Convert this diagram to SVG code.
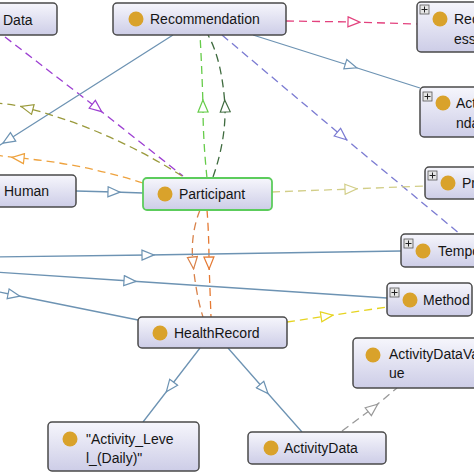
<svg xmlns="http://www.w3.org/2000/svg" width="474" height="474" viewBox="0 0 474 474">
<style>
.node{fill:url(#g);stroke:#4a4a4a;stroke-width:1.5}
.sel{fill:url(#g);stroke:#5ccc5c;stroke-width:1.8}
.dot{fill:#d9a22b}
.t{font-family:"Liberation Sans",Arial,sans-serif;font-size:14px;fill:#151515}
.pl{fill:#e6e6e6;stroke:#555;stroke-width:0.8}
.pls{stroke:#222;stroke-width:1}
.e{fill:none;stroke-width:1.3}
.d{stroke-dasharray:8 5}
</style>
<defs>
<linearGradient id="g" x1="0" y1="0" x2="0" y2="1">
<stop offset="0" stop-color="#f6f6fc"/>
<stop offset="1" stop-color="#cdcde7"/>
</linearGradient>
<marker id="aBlue" markerUnits="userSpaceOnUse" markerWidth="14" markerHeight="12" refX="6" refY="5" orient="auto" viewBox="-1 -1 14 12"><path d="M0,0 L12,5 L0,10 z" fill="#fff" stroke="#6d93b3" stroke-width="1.2"/></marker>
<marker id="aPurple" markerUnits="userSpaceOnUse" markerWidth="14" markerHeight="12" refX="6" refY="5" orient="auto" viewBox="-1 -1 14 12"><path d="M0,0 L12,5 L0,10 z" fill="#fff" stroke="#9d3fd2" stroke-width="1.2"/></marker>
<marker id="aOlive" markerUnits="userSpaceOnUse" markerWidth="14" markerHeight="12" refX="6" refY="5" orient="auto" viewBox="-1 -1 14 12"><path d="M0,0 L12,5 L0,10 z" fill="#fff" stroke="#9a9a3c" stroke-width="1.2"/></marker>
<marker id="aOrange" markerUnits="userSpaceOnUse" markerWidth="14" markerHeight="12" refX="6" refY="5" orient="auto" viewBox="-1 -1 14 12"><path d="M0,0 L12,5 L0,10 z" fill="#fff" stroke="#eea23e" stroke-width="1.2"/></marker>
<marker id="aOrange2" markerUnits="userSpaceOnUse" markerWidth="14" markerHeight="12" refX="6" refY="5" orient="auto" viewBox="-1 -1 14 12"><path d="M0,0 L12,5 L0,10 z" fill="#fff" stroke="#d9824a" stroke-width="1.2"/></marker>
<marker id="aOrange3" markerUnits="userSpaceOnUse" markerWidth="14" markerHeight="12" refX="6" refY="5" orient="auto" viewBox="-1 -1 14 12"><path d="M0,0 L12,5 L0,10 z" fill="#fff" stroke="#e57a34" stroke-width="1.2"/></marker>
<marker id="aLGreen" markerUnits="userSpaceOnUse" markerWidth="14" markerHeight="12" refX="6" refY="5" orient="auto" viewBox="-1 -1 14 12"><path d="M0,0 L12,5 L0,10 z" fill="#fff" stroke="#66cc4a" stroke-width="1.2"/></marker>
<marker id="aDGreen" markerUnits="userSpaceOnUse" markerWidth="14" markerHeight="12" refX="6" refY="5" orient="auto" viewBox="-1 -1 14 12"><path d="M0,0 L12,5 L0,10 z" fill="#fff" stroke="#3f6b3f" stroke-width="1.2"/></marker>
<marker id="aPink" markerUnits="userSpaceOnUse" markerWidth="14" markerHeight="12" refX="6" refY="5" orient="auto" viewBox="-1 -1 14 12"><path d="M0,0 L12,5 L0,10 z" fill="#fff" stroke="#e3427e" stroke-width="1.2"/></marker>
<marker id="aPeri" markerUnits="userSpaceOnUse" markerWidth="14" markerHeight="12" refX="6" refY="5" orient="auto" viewBox="-1 -1 14 12"><path d="M0,0 L12,5 L0,10 z" fill="#fff" stroke="#7b7bd2" stroke-width="1.2"/></marker>
<marker id="aKhaki" markerUnits="userSpaceOnUse" markerWidth="14" markerHeight="12" refX="6" refY="5" orient="auto" viewBox="-1 -1 14 12"><path d="M0,0 L12,5 L0,10 z" fill="#fff" stroke="#d2ce88" stroke-width="1.2"/></marker>
<marker id="aYellow" markerUnits="userSpaceOnUse" markerWidth="14" markerHeight="12" refX="6" refY="5" orient="auto" viewBox="-1 -1 14 12"><path d="M0,0 L12,5 L0,10 z" fill="#fff" stroke="#e6d420" stroke-width="1.2"/></marker>
<marker id="aGray" markerUnits="userSpaceOnUse" markerWidth="14" markerHeight="12" refX="6" refY="5" orient="auto" viewBox="-1 -1 14 12"><path d="M0,0 L12,5 L0,10 z" fill="#fff" stroke="#999" stroke-width="1.2"/></marker>
</defs>
<rect width="474" height="474" fill="#fff"/>
<g id="connectors">
<path class="e d" stroke="#9d3fd2" d="M5,37 L97,108 L183,176" marker-mid="url(#aPurple)"/>
<path class="e" stroke="#6d93b3" d="M173,35 L8,140 L-10,151" marker-mid="url(#aBlue)"/>
<path class="e d" stroke="#9a9a3c" d="M182,176 Q110,130 27,108 Q12,104 -5,103" marker-mid="url(#aOlive)"/>
<path class="e d" stroke="#eea23e" d="M143,183 Q80,163 18,158 L-5,155" marker-mid="url(#aOrange)"/>
<path class="e" stroke="#6d93b3" d="M76,191 L114,192 L143,193" marker-mid="url(#aBlue)"/>
<path class="e d" stroke="#66cc4a" d="M207,178 Q203,140 203,106 Q202,70 200,35" marker-mid="url(#aLGreen)"/>
<path class="e d" stroke="#3f6b3f" d="M213,177 Q226,140 225,106 Q222,60 208,35" marker-mid="url(#aDGreen)"/>
<path class="e d" stroke="#d9824a" d="M200,210 Q190,235 193,263 Q196,295 203,317" marker-mid="url(#aOrange2)"/>
<path class="e d" stroke="#e57a34" d="M207,210 Q209,235 209,263 Q210,290 211,317" marker-mid="url(#aOrange3)"/>
<path class="e d" stroke="#e3427e" d="M286,21 L354,22 L417,24" marker-mid="url(#aPink)"/>
<path class="e" stroke="#6d93b3" d="M253,35 L351,66 L420,88" marker-mid="url(#aBlue)"/>
<path class="e d" stroke="#7b7bd2" d="M222,35 L342,136 L460,234" marker-mid="url(#aPeri)"/>
<path class="e d" stroke="#d2ce88" d="M272,192 L351,189 L425,186" marker-mid="url(#aKhaki)"/>
<path class="e" stroke="#6d93b3" d="M-10,257 L148,255 L401,251" marker-mid="url(#aBlue)"/>
<path class="e" stroke="#6d93b3" d="M-5,272 L130,281 L387,298" marker-mid="url(#aBlue)"/>
<path class="e" stroke="#6d93b3" d="M-5,291 L14,295 L138,320" marker-mid="url(#aBlue)"/>
<path class="e" stroke="#6d93b3" d="M200,348 L170,387 L143,422" marker-mid="url(#aBlue)"/>
<path class="e" stroke="#6d93b3" d="M228,348 L264,389 L302,432" marker-mid="url(#aBlue)"/>
<path class="e d" stroke="#999" d="M342,431 L373,408 L397,388" marker-mid="url(#aGray)"/>
<path class="e d" stroke="#e6d420" d="M287,322 L327,316 L387,307" marker-mid="url(#aYellow)"/>
</g>
<g id="n-data">
<rect class="node" x="-10" y="3" width="67" height="32" rx="4"/>
<text class="t" x="3" y="25">Data</text>
</g>
<g id="n-recommendation">
<rect class="node" x="113" y="3" width="173" height="32" rx="4"/>
<circle class="dot" cx="136" cy="19" r="7.5"/>
<text class="t" x="150" y="24">Recommendation</text>
</g>
<g id="n-rec-process">
<rect class="node" x="417" y="2" width="70" height="50" rx="4"/>
<rect class="pl" x="420" y="5" width="9" height="9"/>
<path class="pls" d="M421.5,9.5 H427.5 M424.5,6.5 V12.5"/>
<circle class="dot" cx="440" cy="19" r="7.5"/>
<text class="t" x="454" y="24">Rec</text>
<text class="t" x="454" y="44">ess</text>
</g>
<g id="n-act-recommendation">
<rect class="node" x="420" y="87" width="70" height="50" rx="4"/>
<rect class="pl" x="423" y="92" width="9" height="9"/>
<path class="pls" d="M424.5,96.5 H430.5 M427.5,93.5 V99.5"/>
<circle class="dot" cx="443" cy="103" r="7.5"/>
<text class="t" x="456" y="108">Acti</text>
<text class="t" x="456" y="128">nda</text>
</g>
<g id="n-human">
<rect class="node" x="-10" y="175" width="86" height="32" rx="4"/>
<text class="t" x="4" y="196">Human</text>
</g>
<g id="n-participant">
<rect class="sel" x="143" y="178" width="129" height="32" rx="4"/>
<circle class="dot" cx="165" cy="194" r="7.5"/>
<text class="t" x="179" y="199">Participant</text>
</g>
<g id="n-pr">
<rect class="node" x="425" y="167" width="70" height="32" rx="4"/>
<rect class="pl" x="428" y="171" width="9" height="9"/>
<path class="pls" d="M429.5,175.5 H435.5 M432.5,172.5 V178.5"/>
<circle class="dot" cx="448" cy="183" r="7.5"/>
<text class="t" x="462" y="188">Pr</text>
</g>
<g id="n-temporal">
<rect class="node" x="401" y="234" width="90" height="33" rx="4"/>
<rect class="pl" x="404" y="239" width="9" height="9"/>
<path class="pls" d="M405.5,243.5 H411.5 M408.5,240.5 V246.5"/>
<circle class="dot" cx="423" cy="251" r="7.5"/>
<text class="t" x="438" y="256">Tempo</text>
</g>
<g id="n-method">
<rect class="node" x="387" y="283" width="85" height="33" rx="4"/>
<rect class="pl" x="390" y="288" width="9" height="9"/>
<path class="pls" d="M391.5,292.5 H397.5 M394.5,289.5 V295.5"/>
<circle class="dot" cx="410" cy="300" r="7.5"/>
<text class="t" x="423" y="305">Method</text>
</g>
<g id="n-healthrecord">
<rect class="node" x="138" y="317" width="149" height="31" rx="4"/>
<circle class="dot" cx="160" cy="333" r="7.5"/>
<text class="t" x="174" y="338">HealthRecord</text>
</g>
<g id="n-activitydatavalue">
<rect class="node" x="353" y="338" width="140" height="50" rx="4"/>
<circle class="dot" cx="373" cy="355" r="7.5"/>
<text class="t" x="389" y="359">ActivityDataVal</text>
<text class="t" x="389" y="378">ue</text>
</g>
<g id="n-activity-level">
<rect class="node" x="48" y="422" width="151" height="49" rx="4"/>
<circle class="dot" cx="70" cy="439" r="7.5"/>
<text class="t" x="86" y="444">"Activity_Leve</text>
<text class="t" x="86" y="463">l_(Daily)"</text>
</g>
<g id="n-activitydata">
<rect class="node" x="248" y="432" width="138" height="32" rx="4"/>
<circle class="dot" cx="271" cy="448" r="7.5"/>
<text class="t" x="284" y="453">ActivityData</text>
</g>
</svg>
